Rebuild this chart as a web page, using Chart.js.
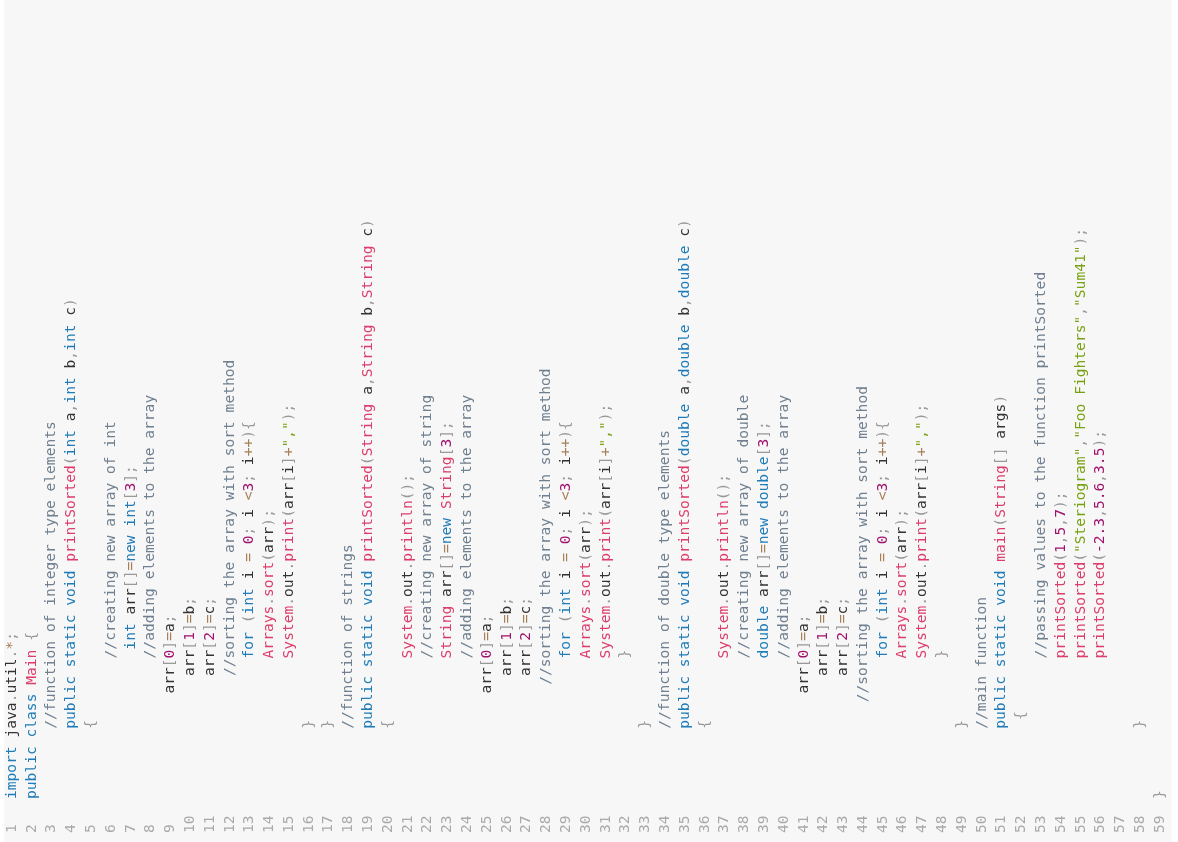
<!DOCTYPE html>
<html><head><meta charset="utf-8">
<script src="https://cdn.jsdelivr.net/npm/chart.js@4/dist/chart.umd.min.js"></script>
<style>html,body{margin:0;padding:0;background:#fff}#wrap{width:1178px;height:842px}</style>
</head><body><div id="wrap"><canvas id="c"></canvas></div>
<script>
const lineNumbers = Array.from({length:59},(_, i)=>i+1);
const indents = [0,0,8,8,8,16,17,16,12,14,14,14,16,16,16,8,8,8,8,8,16,16,16,16,12,14,14,13,16,16,16,16,8,8,8,8,16,16,16,16,12,14,14,11,16,16,16,16,8,8,8,9,16,16,16,16,0,8,0];
const codeLines = [
"import java.util.*;",
"public class Main {",
"//function of integer type elements",
"public static void printSorted(int a,int b,int c)",
"{",
"//creating new array of int",
"int arr[]=new int[3];",
"//adding elements to the array",
"arr[0]=a;",
"arr[1]=b;",
"arr[2]=c;",
"//sorting the array with sort method",
"for (int i = 0; i <3; i++){",
"Arrays.sort(arr);",
"System.out.print(arr[i]+\",\");",
"}",
"}",
"//function of strings",
"public static void printSorted(String a,String b,String c)",
"{",
"System.out.println();",
"//creating new array of string",
"String arr[]=new String[3];",
"//adding elements to the array",
"arr[0]=a;",
"arr[1]=b;",
"arr[2]=c;",
"//sorting the array with sort method",
"for (int i = 0; i <3; i++){",
"Arrays.sort(arr);",
"System.out.print(arr[i]+\",\");",
"}",
"}",
"//function of double type elements",
"public static void printSorted(double a,double b,double c)",
"{",
"System.out.println();",
"//creating new array of double",
"double arr[]=new double[3];",
"//adding elements to the array",
"arr[0]=a;",
"arr[1]=b;",
"arr[2]=c;",
"//sorting the array with sort method",
"for (int i = 0; i <3; i++){",
"Arrays.sort(arr);",
"System.out.print(arr[i]+\",\");",
"}",
"}",
"//main function",
"public static void main(String[] args)",
"{",
"//passing values to the function printSorted",
"printSorted(1,5,7);",
"printSorted(\"Steriogram\",\"Foo Fighters\",\"Sum41\");",
"printSorted(-2.3,5.6,3.5);",
"",
"}",
"}"
];
const keywords = ["import","public","class","static","void","int","new","for","double"];
const namesRed = ["Main","printSorted","Arrays","sort","System","print","println","String","main"];
const COL = {kw:"#1f7cb8", red:"#dd3d6b", num:"#a0106d", str:"#78a212", com:"#708090", op:"#a67f59", punc:"#999999", def:"#333333", ln:"#a9a9a9"};

function tokens(line){
  const out=[]; const re=/(\/\/.*$)|("[^"]*")|(-?\d+(?:\.\d+)?)|([A-Za-z_]\w*)|(\s+)|(.)/g; let m;
  while((m=re.exec(line))){
    let c=COL.def;
    if(m[1]) c=COL.com; else if(m[2]) c=COL.str; else if(m[3]) c=COL.num;
    else if(m[4]) c=keywords.includes(m[4])?COL.kw:(namesRed.includes(m[4])?COL.red:COL.def);
    else if(m[6]) c="+*<=".includes(m[6])?COL.op:COL.punc;
    out.push([m[0],c]);
  }
  return out;
}
const FONT='14.6px "DejaVu Sans Mono", "Liberation Mono", monospace';
const codePlugin={id:'code',
  beforeDraw(ch){const g=ch.ctx;g.save();g.fillStyle="#f7f7f7";g.fillRect(4,0,1168,842);g.restore();},
  afterDraw(ch){
    const g=ch.ctx, xs=ch.scales.x; g.save(); g.font=FONT; g.textBaseline='middle';
    const cw=g.measureText('M').width;
    lineNumbers.forEach((n,i)=>{
      const x=xs.getPixelForValue(n);
      g.save(); g.translate(x,833); g.rotate(-Math.PI/2);
      g.fillStyle=COL.ln; g.textAlign='left'; g.fillText(String(n),0,0);
      let p=34+indents[i]*cw;
      for(const [t,c] of tokens(codeLines[i])){ g.fillStyle=c; g.fillText(t,p,0); p+=g.measureText(t).width; }
      g.restore();
    });
    g.restore();
  }};
new Chart(document.getElementById('c'),{
  type:'scatter',
  data:{datasets:[{data:lineNumbers.map(n=>({x:n,y:0})),pointRadius:0}]},
  options:{responsive:true,maintainAspectRatio:false,animation:false,
    layout:{padding:{left:12,right:18,top:0,bottom:0}},
    plugins:{legend:{display:false},tooltip:{enabled:false}},
    scales:{x:{type:'linear',min:1,max:59,display:false},y:{display:false}}},
  plugins:[codePlugin]
});
</script></body></html>
